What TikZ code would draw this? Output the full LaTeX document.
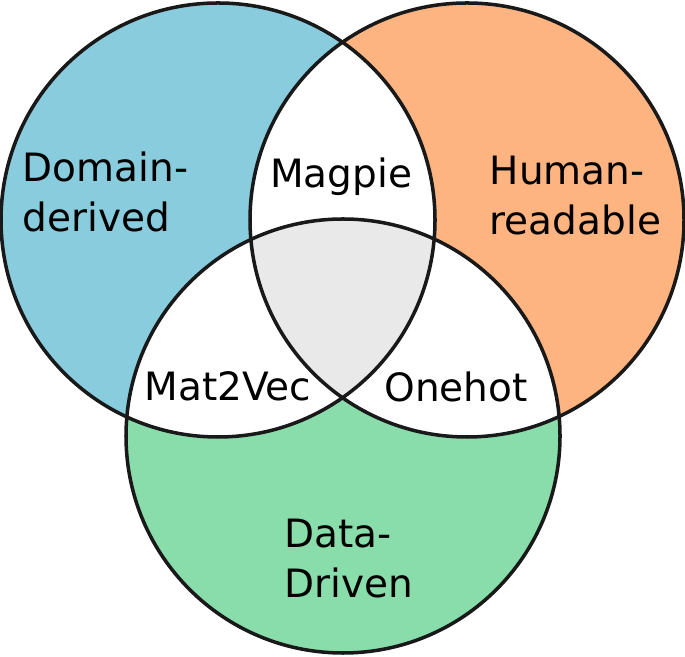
\documentclass[tikz,border=0pt]{standalone}
\usepackage{fontspec}
\setmainfont{DejaVu Sans}
\pgfdeclarelayer{relleno}
\pgfsetlayers{relleno, main}
\definecolor{domcolor}{RGB}{136,204,221}
\definecolor{humcolor}{RGB}{253,180,128}
\definecolor{datcolor}{RGB}{136,221,170}
\definecolor{midcolor}{RGB}{233,233,233}
\tikzstyle{ring}=[draw=black!90,line width=1pt]
\tikzstyle{tag}=[inner sep=0pt,text=black,font=\fontsize{11.1}{14.2}\selectfont,align=left]

\begin{document}
\begin{tikzpicture}
		\useasboundingbox (0,0) rectangle (6.85,6.56);
		\coordinate (dom) at (2.18,4.36);
		\coordinate (hum) at (4.67,4.36);
		\coordinate (dat) at (3.43,2.20);
		
		\begin{pgfonlayer}{relleno}
			\fill[domcolor] (dom) circle (2.17);
			\fill[humcolor] (hum) circle (2.17);
			\fill[datcolor] (dat) circle (2.17);
			\begin{scope}
				\clip (dom) circle (2.17);
				\fill[white] (hum) circle (2.17);
				\fill[white] (dat) circle (2.17);
			\end{scope}
			\begin{scope}
				\clip (hum) circle (2.17);
				\fill[white] (dat) circle (2.17);
			\end{scope}
			\begin{scope}
				\clip (dom) circle (2.17);
				\clip (hum) circle (2.17);
				\fill[midcolor] (dat) circle (2.17);
			\end{scope}
		\end{pgfonlayer}
		\draw[ring] (dom) circle (2.17);
		\draw[ring] (hum) circle (2.17);
		\draw[ring] (dat) circle (2.17);
		
		\node (domain) at (0.22,4.64) [tag,anchor=west] {Domain-\\derived};
		\node (human) at (4.89,4.60) [tag,anchor=west] {Human-\\readable};
		\node (data) at (2.84,0.97) [tag,anchor=west] {Data-\\Driven};
		\node (magpie) at (3.41,4.68) [tag,anchor=base] {Magpie};
		\node (mat2vec) at (2.28,2.55) [tag,anchor=base] {Mat2Vec};
		\node (onehot) at (4.56,2.54) [tag,anchor=base] {Onehot};
	\end{tikzpicture}
\end{document}
